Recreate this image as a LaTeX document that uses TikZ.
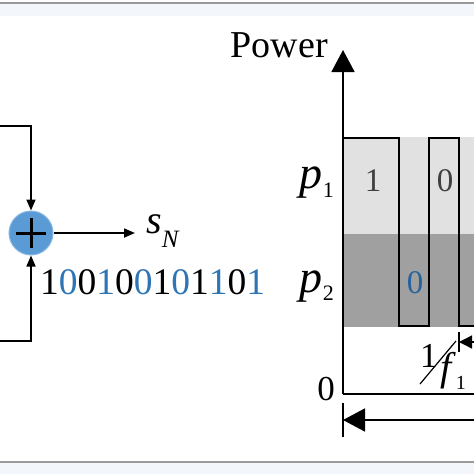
\documentclass[tikz,border=0pt]{standalone}
\usepackage{fontspec}
\setmainfont{Liberation Serif}
\usetikzlibrary{arrows.meta}
\definecolor{sumblue}{HTML}{5B9BD5}
\definecolor{bitblue}{HTML}{2E75B6}
\definecolor{bandlight}{HTML}{E1E1E1}
\definecolor{banddark}{HTML}{A0A0A0}
\definecolor{framegray}{HTML}{9A9A9A}
\definecolor{framepale}{HTML}{F3F7FC}
\newcommand{\fs}[1]{\fontsize{#1}{#1}\selectfont}
\newcommand{\bb}[1]{\textcolor{bitblue}{#1}}

\begin{document}
\begin{tikzpicture}[x=1pt,y=-1pt,>={Triangle[length=11pt,width=9pt]},
  line/.style={line width=1.7pt},
  wave/.style={line width=2.3pt,line join=miter},
  bigtip/.style={-{Triangle[length=22pt,width=23pt]}},
  sumnode/.style={circle,fill=sumblue,draw=sumblue!70,line width=1pt,minimum size=44pt,inner sep=0pt},
  lbl/.style={inner sep=0pt,font=\fs{33}}]
  \useasboundingbox (0,0) rectangle (474,474);
  \fill[framepale] (0,4) rectangle (474,16);
  \fill[framepale] (0,463) rectangle (474,474);
  \draw[framegray,line width=1.5pt] (0,3) -- (474,3);
  \draw[framegray,line width=1.5pt] (0,462) -- (474,462);

  % adder with its two inputs
  \node[sumnode] (sum) at (31,233) {};
  \draw[line width=3pt] (sum.center) ++(-15,0) -- ++(30,0);
  \draw[line width=3pt] (sum.center) ++(0,-15) -- ++(0,30);
  \coordinate (intop) at (0,126);
  \coordinate (inbot) at (0,341);
  \draw[line,->] (intop) -| (sum.north);
  \draw[line,->] (inbot) -| (sum.south);
  \node[anchor=base west,inner sep=0pt,font=\fs{40}] (sN) at (146,233) {\textit{s}\raisebox{-14pt}{\fs{25}\textit{N}}};
  \draw[line,->,shorten >=11pt] (sum.east) -- (sN.west |- sum.east);
  \node[anchor=base west,inner sep=0pt,font=\fs{37.5}] (bits) at (40,294)
    {1\bb{0}0\bb{1}0\bb{0}1\bb{0}1\bb{1}0\bb{1}};

  % power levels
  \fill[bandlight] (343,137) rectangle (474,234);
  \fill[banddark] (343,234) rectangle (474,327);
  \coordinate (O) at (343,394);
  \coordinate (ytop) at (343,50);
  \coordinate (xend) at (474,394);
  \draw[line,bigtip] (O) -- (ytop);
  \draw[line] (O) -- (xend);
  \node[anchor=base east,inner sep=0pt,font=\fs{38}] (power) at (328,57) {Power};
  \draw[wave] (343,138) -- (399,138) -- (399,326) -- (429,326) -- (429,138)
    -- (459,138) -- (459,326) -- (476,326);
  \node[lbl,text=black!75] (b1) at (373,181) {1};
  \node[lbl,text=black!75] (b2) at (445,181) {0};
  \node[lbl,text=bitblue!85!black] (b3) at (415,283) {0};
  \node[anchor=base east,inner sep=0pt,font=\fs{46}] (p1) at (334,188) {\textit{p}\raisebox{-9pt}{\fs{22}1}};
  \node[anchor=base east,inner sep=0pt,font=\fs{46}] (p2) at (334,292) {\textit{p}\raisebox{-8pt}{\fs{22}2}};
  \node[anchor=base east,inner sep=0pt,font=\fs{35}] (zero) at (335,400) {0};

  % bit period and frame length
  \node[anchor=base west,inner sep=0pt,font=\fs{35}] (one) at (420,367) {1};
  \draw[line width=1.2pt] (420,384) -- (456,341);
  \node[anchor=base west,inner sep=0pt,font=\fs{40}] (fone) at (440,380) {\textit{f}\raisebox{-9pt}{\fs{20}1}};
  \coordinate (ptick) at (459,342);
  \coordinate (pend) at (474,342);
  \draw[line width=1.3pt] (459,332) -- (459,352);
  \draw[line width=1.3pt,-{Triangle[length=13pt,width=13pt]}] (pend) -- (ptick);
  \coordinate (ftick) at (343,420);
  \coordinate (fend) at (474,420);
  \draw[line] (343,403) -- (343,437);
  \draw[line,bigtip] (fend) -- (ftick);
\end{tikzpicture}
\end{document}
